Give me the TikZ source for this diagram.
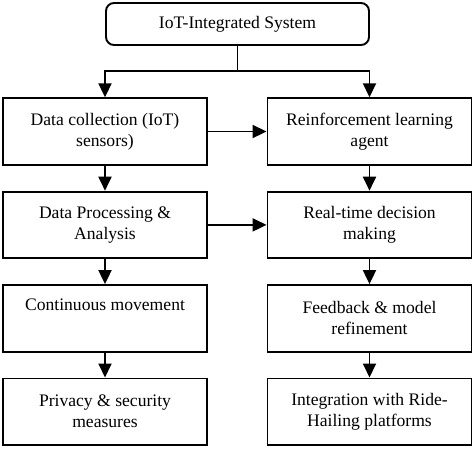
\documentclass[tikz,border=0pt]{standalone}
\usepackage{fontspec}
\setmainfont{Liberation Serif}
\usetikzlibrary{arrows.meta,positioning}

\begin{document}
\begin{tikzpicture}[x=1pt,y=1pt,->,>={Triangle[length=14pt,width=13pt]},line width=1.9pt,
        node distance=25pt,
        box/.style={draw,rectangle,minimum width=204pt,minimum height=66.5pt,align=center,
          inner sep=2pt,font=\fontsize{17.6}{21}\selectfont}]
  \useasboundingbox (0,0) rectangle (474,-448);
  \node[box,rounded corners=8pt,minimum width=263pt,minimum height=42pt] (sys) at (237.5,-24) {IoT-Integrated System};

  \node[box] (collect) at (105,-131.5) {Data collection (IoT)\\sensors)};
  \node[box] (process) [below=of collect] {Data Processing \&\\Analysis};
  \node[box] (move) [below=of process] {Continuous movement\\\strut};
  \node[box] (privacy) [below=of move] {Privacy \& security\\measures};

  \node[box] (agent) at (369.5,-131.5) {Reinforcement learning\\agent};
  \node[box] (decide) [below=of agent] {Real-time decision\\making};
  \node[box] (feedback) [below=of decide] {Feedback \& model\\refinement};
  \node[box] (ride) [below=of feedback] {Integration with Ride-\\Hailing platforms};

  \draw[-] (sys.south) -- ++(0,-25) coordinate (fork);
  \draw (fork) -| (collect.north);
  \draw (fork) -| (agent.north);
  \path (collect) edge (agent)
        (process) edge (decide)
        (collect) edge (process)
        (process) edge (move)
        (move) edge (privacy)
        (agent) edge (decide)
        (decide) edge (feedback)
        (feedback) edge (ride);
\end{tikzpicture}
\end{document}
